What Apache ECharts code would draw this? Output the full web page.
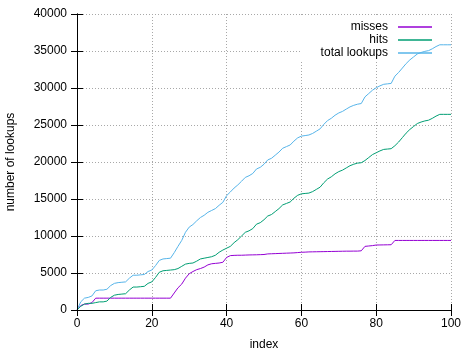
<!DOCTYPE html>
<html>
<head>
<meta charset="utf-8">
<script src="https://cdn.jsdelivr.net/npm/echarts@6/dist/echarts.min.js"></script>
<style>
html,body{margin:0;padding:0;background:#fff;}
#chart{width:474px;height:355px;}
</style>
</head>
<body>
<div id="chart"></div>
<script>
// x index 0..100
const indexValues = Array.from({length: 101}, (_, i) => i);

const xTicks = [0, 20, 40, 60, 80, 100];
const yTicks = [0, 5000, 10000, 15000, 20000, 25000, 30000, 35000, 40000];

const misses = [
  0, 600, 800, 800, 1000, 1600, 1600, 1600, 1600, 1600,
  1600, 1600, 1600, 1600, 1600, 1600, 1600, 1600, 1600, 1600,
  1600, 1600, 1600, 1600, 1600, 1600, 2300, 3000, 3500, 4300,
  4900, 5200, 5450, 5600, 5800, 6100, 6250, 6300, 6350, 6450,
  7100, 7350, 7380, 7400, 7400, 7420, 7440, 7450, 7460, 7480,
  7500, 7580, 7600, 7620, 7640, 7660, 7680, 7700, 7720, 7760,
  7800, 7820, 7850, 7860, 7870, 7880, 7890, 7900, 7910, 7920,
  7930, 7940, 7950, 7950, 7960, 7960, 8000, 8600, 8650, 8700,
  8780, 8790, 8800, 8810, 8820, 9400, 9400, 9400, 9400, 9400,
  9400, 9400, 9400, 9400, 9400, 9400, 9400, 9400, 9400, 9400,
  9400
];

const hits = [
  0, 500, 800, 900, 900, 1000, 1100, 1100, 1200, 1700,
  2000, 2100, 2150, 2200, 2700, 3100, 3100, 3150, 3200, 3600,
  3800, 4400, 5100, 5300, 5350, 5400, 5450, 5600, 5900, 6200,
  6300, 6350, 6600, 6900, 7000, 7100, 7200, 7400, 7800, 8100,
  8350, 8600, 9100, 9500, 10000, 10500, 10700, 11000, 11600, 11800,
  12200, 12700, 12900, 13300, 13700, 14200, 14400, 14600, 15100, 15500,
  15700, 15750, 15800, 16000, 16300, 16600, 17200, 17700, 18000, 18400,
  18700, 18900, 19200, 19500, 19700, 19850, 19900, 20200, 20600, 21000,
  21250, 21500, 21700, 21750, 21800, 22200, 22700, 23300, 23900, 24400,
  24800, 25200, 25400, 25550, 25650, 25900, 26200, 26440, 26440, 26440,
  26440
];

const totalLookups = [
  0, 1100, 1600, 1700, 1900, 2600, 2700, 2700, 2800, 3300,
  3600, 3700, 3750, 3800, 4300, 4700, 4700, 4750, 4800, 5200,
  5400, 6000, 6700, 6900, 6950, 7000, 7750, 8600, 9400, 10500,
  11200, 11550, 12050, 12500, 12800, 13200, 13450, 13700, 14150, 14550,
  15450, 15950, 16480, 16900, 17400, 17920, 18140, 18450, 19060, 19280,
  19700, 20280, 20500, 20920, 21340, 21860, 22080, 22300, 22820, 23260,
  23500, 23570, 23650, 23860, 24170, 24480, 25090, 25600, 25910, 26320,
  26630, 26840, 27150, 27450, 27660, 27810, 27900, 28800, 29250, 29700,
  30030, 30290, 30500, 30560, 30620, 31600, 32100, 32700, 33300, 33800,
  34200, 34600, 34800, 34950, 35050, 35300, 35600, 35840, 35840, 35840,
  35840
];

const seriesNames = ['misses', 'hits', 'total lookups'];
const seriesColors = ['#9400d3', '#009e73', '#56b4e9'];
const seriesValues = [misses, hits, totalLookups];

const FONT = 'Liberation Sans, Arial, sans-serif';
const xMin = xTicks[0], xMax = xTicks[xTicks.length - 1], xInt = xTicks[1] - xTicks[0];
const yMin = yTicks[0], yMax = yTicks[yTicks.length - 1], yInt = yTicks[1] - yTicks[0];

const chart = echarts.init(document.getElementById('chart'), null, {renderer: 'canvas'});

const axisLineStyle = {show: true, lineStyle: {color: '#000', width: 1}};
const tickStyle = {show: true, inside: true, length: 6, lineStyle: {color: '#000', width: 1}};
const gridLineStyle = {show: true, lineStyle: {color: '#a8a8a8', width: 1, type: [1, 2]}};

chart.setOption({
  animation: false,
  backgroundColor: '#fff',
  grid: {left: 77, right: 23, top: 14, bottom: 45, containLabel: false, outerBoundsMode: 'none'},
  legend: {
    orient: 'vertical',
    right: 37,
    top: 16,
    align: 'right',
    itemWidth: 34,
    itemHeight: 1.5,
    itemGap: 1,
    icon: 'rect',
    z: 5,
    textStyle: {fontFamily: FONT, fontSize: 12, color: '#000', padding: [0, 5, 0, 0]},
    data: seriesNames
  },
  graphic: [{
    type: 'rect',
    z: 1,
    shape: {x: 301, y: 15, width: 149, height: 47},
    style: {fill: '#fff'}
  }],
  xAxis: [{
    type: 'value', position: 'bottom', min: xMin, max: xMax, interval: xInt,
    axisLine: axisLineStyle, axisTick: tickStyle,
    axisLabel: {color: '#000', fontSize: 12, fontFamily: FONT, margin: 8},
    splitLine: gridLineStyle,
    name: 'index', nameLocation: 'middle', nameGap: 29,
    nameTextStyle: {color: '#000', fontSize: 12, fontFamily: FONT}
  }, {
    type: 'value', position: 'top', min: xMin, max: xMax, interval: xInt, z: 3,
    axisLine: axisLineStyle, axisTick: tickStyle,
    axisLabel: {show: false}, splitLine: {show: false}
  }],
  yAxis: [{
    type: 'value', position: 'left', min: yMin, max: yMax, interval: yInt,
    axisLine: axisLineStyle, axisTick: tickStyle,
    axisLabel: {color: '#000', fontSize: 12, fontFamily: FONT, margin: 10, formatter: v => String(v)},
    splitLine: gridLineStyle,
    name: 'number of lookups', nameLocation: 'middle', nameGap: 60,
    nameTextStyle: {color: '#000', fontSize: 12, fontFamily: FONT}
  }, {
    type: 'value', position: 'right', min: yMin, max: yMax, interval: yInt, z: 3,
    axisLine: axisLineStyle, axisTick: tickStyle,
    axisLabel: {show: false}, splitLine: {show: false}
  }],
  series: seriesNames.map((name, k) => ({
    name: name,
    type: 'line',
    xAxisIndex: 0,
    yAxisIndex: 0,
    z: 2,
    showSymbol: false,
    symbol: 'none',
    color: seriesColors[k],
    lineStyle: {color: seriesColors[k], width: 1},
    data: indexValues.map((x, i) => [x, seriesValues[k][i]])
  }))
});
</script>
</body>
</html>
